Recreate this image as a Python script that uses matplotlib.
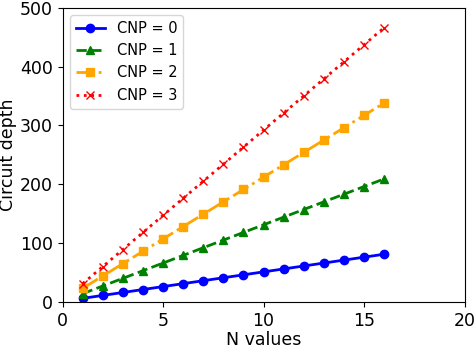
import numpy as np
import matplotlib.pyplot as plt

n_values = np.arange(1, 17)
cnp0 = [6, 11, 16, 21, 26, 31, 36, 41, 46, 51, 56, 61, 66, 71, 76, 81]
cnp1 = [14, 27, 40, 53, 66, 79, 92, 105, 118, 131, 144, 157, 170, 183, 196, 209]
cnp2 = [23, 44, 65, 86, 107, 128, 149, 170, 191, 212, 233, 254, 275, 296, 317, 338]
cnp3 = [31, 60, 89, 118, 147, 176, 205, 234, 263, 292, 321, 350, 379, 408, 437, 466]

plt.rcParams['font.size'] = 12.5
fig, ax = plt.subplots(figsize=(4.74, 3.49), dpi=100)
ax.plot(n_values, cnp0, 'o-', color='blue', lw=2, ms=6, label='CNP = 0')
ax.plot(n_values, cnp1, '^--', color='green', lw=2, ms=6, label='CNP = 1')
ax.plot(n_values, cnp2, 's-.', color='orange', lw=2, ms=6, label='CNP = 2')
ax.plot(n_values, cnp3, 'x:', color='red', lw=2, ms=6, label='CNP = 3')
ax.set_xlim(0, 20)
ax.set_ylim(0, 500)
ax.set_xticks([0, 5, 10, 15, 20])
ax.set_xlabel('N values', labelpad=1)
ax.set_ylabel('Circuit depth', labelpad=2)
ax.legend(loc='upper left', fontsize=10.5)
plt.subplots_adjust(left=0.132, right=0.98, top=0.978, bottom=0.135)
plt.savefig('out.png')
